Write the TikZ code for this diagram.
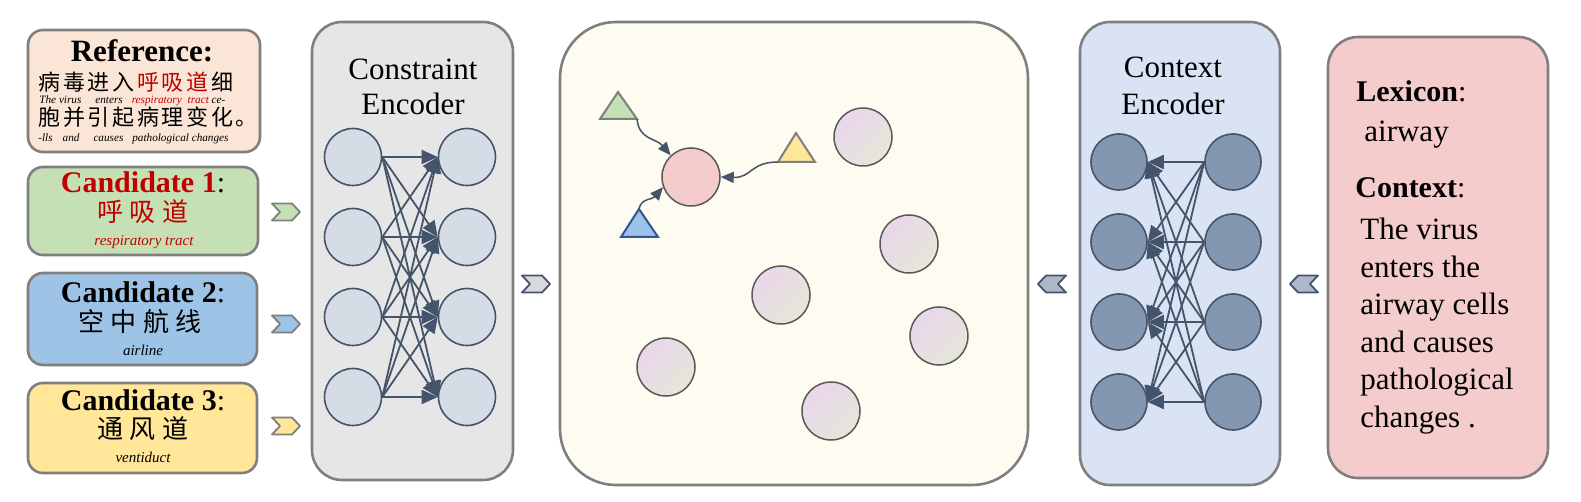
\documentclass[tikz,border=0pt]{standalone}
\usepackage{fontspec}
\setmainfont{Liberation Serif}
\newfontfamily\cjk{Noto Sans CJK SC}
\usetikzlibrary{arrows.meta,shadings}
\definecolor{boxline}{HTML}{7F7F7F}
\definecolor{refc}{HTML}{FBE5D6}
\definecolor{greenc}{HTML}{C5E0B4}
\definecolor{bluec}{HTML}{9DC3E6}
\definecolor{yellowc}{HTML}{FFE699}
\definecolor{grayc}{HTML}{E7E6E6}
\definecolor{ctxc}{HTML}{DAE3F3}
\definecolor{creamc}{HTML}{FEFBF0}
\definecolor{pinkc}{HTML}{F4CCCC}
\definecolor{encline}{HTML}{44546A}
\definecolor{enclight}{HTML}{D6DCE5}
\definecolor{encdark}{HTML}{8497B0}
\definecolor{cred}{HTML}{C00000}
\definecolor{lav}{HTML}{EBD3EF}
\definecolor{sage}{HTML}{E3EAD3}
\definecolor{circline}{HTML}{595959}
\definecolor{chevgray}{HTML}{D9D9D9}
\definecolor{chevblue}{HTML}{ADB9CA}
\definecolor{tblue}{HTML}{2F5597}
\colorlet{mixc}{lav!50!sage}
\newcommand\myfs[2]{\fontsize{#1}{#2}\selectfont}
\newcommand\gA{\hspace{3.2pt}}
\newcommand\gB{\hspace{1.35pt}}
\newcommand\chevR[4]{\draw[line width=0.9pt, fill=#3, draw=#4, line join=round] (#1-14,#2-8.5) -- ++(20,0) -- ++(8,8.5) -- ++(-8,8.5) -- ++(-20,0) -- ++(8,-8.5) -- cycle;}
\newcommand\chevL[4]{\draw[line width=0.9pt, fill=#3, draw=#4, line join=round] (#1+14,#2-8.5) -- ++(-20,0) -- ++(-8,8.5) -- ++(8,8.5) -- ++(20,0) -- ++(-8,-8.5) -- cycle;}
\begin{document}
\begin{tikzpicture}[x=0.5pt,y=-0.5pt,
  panel/.style={draw=boxline, line width=1.3pt},
  txt/.style={inner sep=0},
  hdr/.style={inner sep=0, font=\bfseries\myfs{15}{18}},
  body/.style={inner sep=0, font=\myfs{15.5}{18}},
  cjkbig/.style={inner sep=0, font=\cjk\myfs{13}{15}},
  cjksmall/.style={inner sep=0, font=\cjk\myfs{11}{13}},
  gloss/.style={inner sep=0, font=\itshape\myfs{7.5}{9}},
  tiny/.style={inner sep=0, font=\itshape\myfs{5.6}{7}},
  enca/.style={circle, draw=encline, fill=enclight, line width=0.8pt, minimum size=28.5pt, inner sep=0},
  encb/.style={circle, draw=encline, fill=encdark, line width=0.8pt, minimum size=28pt, inner sep=0},
  encarrow/.style={draw=encline, line width=0.9pt, -{Triangle[length=8pt,width=7pt]}},
  gcirc/.style={circle, draw=circline, line width=0.75pt, minimum size=29pt, inner sep=0,
    upper left=lav, lower right=sage, upper right=mixc, lower left=mixc},
  pcirc/.style={circle, draw=circline, fill=pinkc, line width=0.75pt, minimum size=29pt, inner sep=0},
  curvarrow/.style={draw=encline, line width=0.75pt, -{Triangle[length=6.5pt,width=5.5pt]}},
  tri/.style={line width=1pt, line join=miter}
]
\useasboundingbox (0,0) rectangle (1581,502);

% ---------- left input boxes ----------
\draw[panel, fill=refc, rounded corners=7.5pt] (28,30) rectangle (260,152);
\draw[panel, fill=greenc, rounded corners=7.5pt] (28,167) rectangle (258,255);
\draw[panel, fill=bluec, rounded corners=7.5pt] (28,273) rectangle (257,365);
\draw[panel, fill=yellowc, rounded corners=7.5pt] (28,383) rectangle (257,473);

\node[anchor=base, inner sep=0, font=\bfseries\myfs{15.5}{18}] (reft) at (142,62) {Reference:};
\node[anchor=base west, cjksmall] (refl1) at (38,91) {病\gB 毒\gB 进\gB 入\gB\textcolor{cred}{呼\gB 吸\gB 道}\gB 细};
\node[anchor=base west, tiny] (refe1) at (39,104) {The virus\hspace{7pt}enters\hspace{4.5pt}\textcolor{cred}{respiratory\hspace{3pt}tract} ce-};
\node[anchor=base west, cjksmall] (refl2) at (38,126) {胞\gB 并\gB 引\gB 起\gB 病\gB 理\gB 变\gB 化\gB 。};
\node[anchor=base west, tiny] (refe2) at (38,142) {-lls\hspace{5pt}and\hspace{7pt}causes\hspace{4.5pt}pathological changes};

\node[anchor=base, hdr] (c1t) at (143,193) {\textcolor{cred}{Candidate 1}\mdseries:};
\node[anchor=base, cjkbig] (c1c) at (143,222) {\textcolor{cred}{呼\gA 吸\gA 道}};
\node[anchor=base, gloss] (c1e) at (144,246) {\textcolor{cred}{respiratory tract}};

\node[anchor=base, hdr] (c2t) at (143,303) {Candidate 2\mdseries:};
\node[anchor=base, cjkbig] (c2c) at (140,332) {空\gA 中\gA 航\gA 线};
\node[anchor=base, gloss] (c2e) at (143,356) {airline};

\node[anchor=base, hdr] (c3t) at (143,410) {Candidate 3\mdseries:};
\node[anchor=base, cjkbig] (c3c) at (143,438) {通\gA 风\gA 道};
\node[anchor=base, gloss] (c3e) at (143,462) {ventiduct};

\chevR{286}{212}{greenc}{boxline}
\chevR{286}{324}{bluec}{boxline}
\chevR{286}{426}{yellowc}{boxline}

% ---------- constraint encoder ----------
\draw[panel, fill=grayc, rounded corners=15pt] (312,22) rectangle (513,480);
\node[anchor=base, body] (cet1) at (413,80) {Constraint};
\node[anchor=base, body] (cet2) at (413,115) {Encoder};
\foreach \i/\y in {1/157,2/237,3/317,4/397} {
  \node[enca] (cl\i) at (353,\y) {};
  \node[enca] (cr\i) at (467,\y) {};
}
\foreach \i in {1,...,4} \foreach \j in {1,...,4} \draw[encarrow] (cl\i.east) -- (cr\j.west);

\chevR{536}{284}{chevgray}{encline}

% ---------- latent space ----------
\draw[panel, fill=creamc, rounded corners=28pt] (560,22) rectangle (1028,485);
\node[gcirc] (g1) at (863,137) {};
\node[gcirc] (g2) at (909,244) {};
\node[gcirc] (g3) at (781,295) {};
\node[gcirc] (g4) at (939,336) {};
\node[gcirc] (g5) at (666,367) {};
\node[gcirc] (g6) at (831,411) {};
\node[pcirc] (pc) at (691,177) {};

\coordinate (gtR) at (637,119);
\coordinate (ytL) at (778,162);
\coordinate (btA) at (639,209);
\draw[tri, fill=greenc, draw=boxline] (618,92) -- (gtR) -- (600,119) -- cycle;
\draw[tri, fill=yellowc, draw=boxline] (796,133) -- (815,162) -- (ytL) -- cycle;
\draw[tri, fill=bluec, draw=tblue] (btA) -- (658,237) -- (621,237) -- cycle;

\draw[curvarrow] (gtR) .. controls (639,140) and (656,138) .. (pc.133);
\draw[curvarrow] (ytL) .. controls (750,162) and (752,178) .. (pc.0);
\draw[curvarrow] (btA) .. controls (641,198) and (652,200) .. (pc.200);

% ---------- context encoder ----------
\chevL{1052}{284}{chevblue}{encline}
\draw[panel, fill=ctxc, rounded corners=15pt] (1080,22) rectangle (1280,485);
\node[anchor=base, body] (xet1) at (1173,78) {Context};
\node[anchor=base, body] (xet2) at (1173,115) {Encoder};
\foreach \i/\y in {1/162,2/242,3/322,4/402} {
  \node[encb] (xl\i) at (1119,\y) {};
  \node[encb] (xr\i) at (1233,\y) {};
}
\foreach \i in {1,...,4} \foreach \j in {1,...,4} \draw[encarrow] (xr\j.west) -- (xl\i.east);

\chevL{1304}{284}{chevblue}{encline}

% ---------- right input box ----------
\draw[panel, fill=pinkc, rounded corners=15pt] (1328,37) rectangle (1548,478);
\node[anchor=base west, hdr] (lex) at (1356,102) {Lexicon\mdseries:};
\node[anchor=base west, body] (lexw) at (1364,142) {airway};
\node[anchor=base west, hdr] (ctx) at (1355,198) {Context\mdseries:};
\node[anchor=base west, body] (s1) at (1360,240) {The virus};
\node[anchor=base west, body] (s2) at (1360,277.5) {enters the};
\node[anchor=base west, body] (s3) at (1360,315) {airway cells};
\node[anchor=base west, body] (s4) at (1360,352.5) {and causes};
\node[anchor=base west, body] (s5) at (1360,390) {pathological};
\node[anchor=base west, body] (s6) at (1360,427.5) {changes .};
\end{tikzpicture}
\end{document}
